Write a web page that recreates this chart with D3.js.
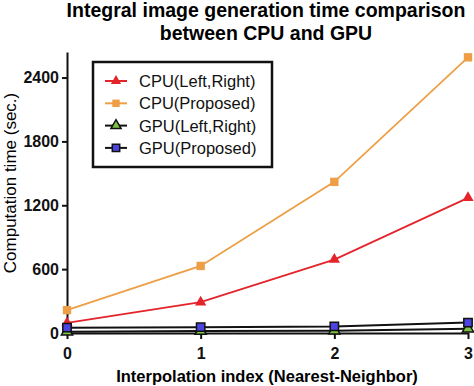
<!DOCTYPE html>
<html>
<head>
<meta charset="utf-8">
<script src="https://cdn.jsdelivr.net/npm/d3@7"></script>
<style>
  body { margin: 0; background: #fff; }
  text { font-family: "Liberation Sans", Arial, sans-serif; }
</style>
</head>
<body>
<div id="chart"></div>
<script>
// data
const xValues = [0, 1, 2, 3];
const cpuLeftRight = [95, 290, 690, 1270];
const cpuProposed = [215, 630, 1420, 2590];
const gpuLeftRight = [12, 18, 22, 40];
const gpuProposed = [50, 55, 62, 98];
const seriesNames = ["CPU(Left,Right)", "CPU(Proposed)", "GPU(Left,Right)", "GPU(Proposed)"];
const yTicks = [0, 600, 1200, 1800, 2400];

const width = 474, height = 386;
const margin = {top: 52, right: 6, bottom: 53, left: 67};

const series = [
    {name: seriesNames[0], values: cpuLeftRight, line: "#e3242b", fill: "#e3242b", stroke: "#e3242b", shape: d3.symbolTriangle},
    {name: seriesNames[1], values: cpuProposed, line: "#ee9f45", fill: "#ee9f45", stroke: "#ee9f45", shape: d3.symbolSquare},
    {name: seriesNames[2], values: gpuLeftRight, line: "#111", fill: "#7cc243", stroke: "#111", shape: d3.symbolTriangle},
    {name: seriesNames[3], values: gpuProposed, line: "#111", fill: "#4b44e0", stroke: "#111", shape: d3.symbolSquare}
];

const svg = d3.select("#chart").append("svg")
    .attr("width", width)
    .attr("height", height);

const x = d3.scaleLinear().domain([0, 3]).range([margin.left, width - margin.right]);
const y = d3.scaleLinear().domain([0, 2640]).range([height - margin.bottom, margin.top]);

// title
svg.append("text").attr("x", 266).attr("y", 17).attr("text-anchor", "middle")
    .style("font-size", "19.5px").style("font-weight", "bold").text("Integral image generation time comparison");
svg.append("text").attr("x", 266).attr("y", 40).attr("text-anchor", "middle")
    .style("font-size", "19.5px").style("font-weight", "bold").text("between CPU and GPU");

// axes
const yAxis = svg.append("g")
    .attr("transform", `translate(${margin.left},0)`)
    .call(d3.axisLeft(y).tickValues(yTicks).tickFormat(d3.format("d")).tickSize(5).tickSizeOuter(0));
const xAxis = svg.append("g")
    .attr("transform", `translate(0,${y(0)})`)
    .call(d3.axisBottom(x).tickValues(xValues).tickFormat(d3.format("d")).tickSize(6).tickSizeOuter(0));

[yAxis, xAxis].forEach(g => {
    g.select(".domain").attr("stroke", "#111").attr("stroke-width", 2);
    g.selectAll(".tick line").attr("stroke", "#111").attr("stroke-width", 2);
    g.selectAll(".tick text").attr("fill", "#111")
        .style("font-size", "16px").style("font-weight", "bold")
        .style("font-family", "'Liberation Sans', Arial, sans-serif");
});
xAxis.selectAll(".tick text").attr("dy", "1.05em");

svg.append("text")
    .attr("transform", `translate(16,183) rotate(-90)`)
    .attr("text-anchor", "middle")
    .style("font-size", "17px")
    .text("Computation time (sec.)");
svg.append("text").attr("x", 267).attr("y", 382).attr("text-anchor", "middle")
    .style("font-size", "16.5px").style("font-weight", "bold")
    .text("Interpolation index (Nearest-Neighbor)");

// lines and markers
const line = d3.line().x((d, i) => x(xValues[i])).y(d => y(d));
series.forEach(s => {
    svg.append("path").datum(s.values)
        .attr("fill", "none")
        .attr("stroke", s.line)
        .attr("stroke-width", s.line === "#111" ? 2 : 1.8)
        .attr("d", line);
});
series.forEach(s => {
    svg.selectAll(null).data(s.values).enter().append("path")
        .attr("transform", (d, i) => `translate(${x(xValues[i])},${y(d)})`)
        .attr("d", d3.symbol().type(s.shape).size(s.shape === d3.symbolSquare ? 70 : 55))
        .attr("fill", s.fill)
        .attr("stroke", s.stroke)
        .attr("stroke-width", s.stroke === "#111" ? 1.5 : 0);
});

// legend
const legend = svg.append("g");
legend.append("rect").attr("x", 93).attr("y", 62).attr("width", 179).attr("height", 105)
    .attr("fill", "#fff").attr("stroke", "#111").attr("stroke-width", 2.5);
series.forEach((s, i) => {
    const ly = 81 + i * 22.3;
    legend.append("line").attr("x1", 105).attr("x2", 127).attr("y1", ly).attr("y2", ly)
        .attr("stroke", s.line).attr("stroke-width", 2);
    legend.append("path").attr("transform", `translate(116,${ly})`)
        .attr("d", d3.symbol().type(s.shape).size(s.shape === d3.symbolSquare ? 55 : 45))
        .attr("fill", s.fill).attr("stroke", s.stroke).attr("stroke-width", s.stroke === "#111" ? 1.5 : 0);
    legend.append("text").attr("x", 139).attr("y", ly + 6)
        .style("font-size", "16.5px").attr("fill", "#111").text(s.name);
});
</script>
</body>
</html>
